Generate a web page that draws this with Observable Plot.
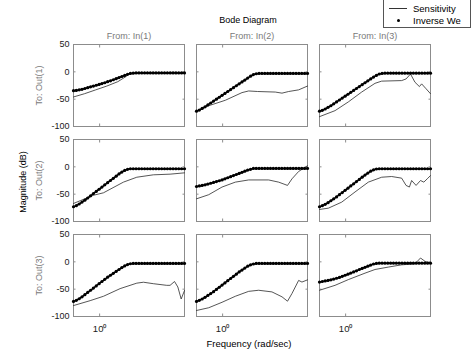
<!DOCTYPE html>
<html>
<head>
<meta charset="utf-8">
<script src="https://cdn.jsdelivr.net/npm/d3@7"></script>
<script src="https://cdn.jsdelivr.net/npm/@observablehq/plot@0.6"></script>
<style>
  html, body { margin: 0; padding: 0; background: #fff; }
  #wrap { position: relative; width: 474px; height: 355px; overflow: hidden; font-family: Arial, "Liberation Sans", sans-serif; color: #000; }
  #wrap svg { position: absolute; left: 0; top: 0; }
  .lbl { position: absolute; white-space: nowrap; }
</style>
</head>
<body>
<div id="wrap"></div>
<script>
// ---- labels / ticks ----
const cols = [1, 2, 3];
const rows = [1, 2, 3];
const colLabels = ["From: In(1)", "From: In(2)", "From: In(3)"];
const rowLabels = ["To: Out(1)", "To: Out(2)", "To: Out(3)"];
const yTicks = [-100, -50, 0, 50];
const xTicks = [1];
const xTickLabels = ["10\u2070"];
const title = "Bode Diagram";
const xLabel = "Frequency  (rad/sec)";
const yLabel = "Magnitude (dB)";
const seriesNames = ["Sensitivity", "Inverse We"];

// ---- Inverse We: frequency grid (rad/sec) and magnitudes (dB) ----
const freqWe = [0.5,0.539,0.581,0.627,0.676,0.729,0.786,0.848,0.914,0.986,
  1.063,1.146,1.236,1.333,1.438,1.55,1.672,1.803,1.944,2.097,
  2.261,2.438,2.63,2.836,3.058,3.298,3.557,3.835,4.136,4.46,
  4.81,5.187,5.594,6.032,6.505,7.015,7.565,8.158,8.797,9.5];

const weR1C1 = [-34.5,-34,-33,-32,-30.5,-29,-27.5,-26,-24.5,-23,
  -21.5,-20,-18,-16.5,-14.5,-12.5,-10.5,-8.5,-6.5,-4.5,
  -3,-2.5,-2,-2,-2,-2,-2,-2,-2,-2,
  -2,-2,-2,-2,-2,-2,-2,-2,-2,-2];
const weR1C2 = [-72,-70,-67,-64,-60.5,-57,-53.5,-50,-46.5,-43,
  -39.5,-36,-32.5,-29,-25.5,-22,-18.5,-15,-11.5,-8,
  -5,-3.5,-3,-3,-3,-3,-3,-3,-3,-3,
  -3,-3,-3,-3,-3,-3,-3,-3,-3,-3];
const weR1C3 = [-72,-70.5,-68,-65,-62,-58.5,-55,-51.5,-48,-44.5,
  -41,-37.5,-34,-30.5,-27,-23.5,-20,-16.5,-13,-9.5,
  -6.5,-4,-3,-2.5,-2.5,-2.5,-2.5,-2.5,-2.5,-2.5,
  -2.5,-2.5,-2.5,-2.5,-2.5,-2.5,-2.5,-2.5,-2.5,-2.5];
const weR2C1 = [-73,-71,-68,-64.5,-61,-57,-53,-49,-45,-41,
  -37,-33,-29,-25,-21,-17,-13,-9.5,-6.5,-4.5,
  -3.5,-3.5,-3.5,-3.5,-3.5,-3.5,-3.5,-3.5,-3.5,-3.5,
  -3.5,-3.5,-3.5,-3.5,-3.5,-3.5,-3.5,-3.5,-3.5,-3.5];
const weR2C2 = [-36,-35,-34,-33,-31.5,-30,-28.5,-27,-25.5,-24,
  -22,-20,-18,-16,-14,-12,-10,-8,-6,-4.5,
  -3,-3,-3,-3,-3,-3,-3,-3,-3,-3,
  -3,-3,-3,-3,-3,-3,-3,-3,-3,-3];
const weR2C3 = [-73,-71,-68.5,-65.5,-62,-58.5,-55,-51,-47,-43,
  -39,-35,-31,-27,-23,-19,-15,-11.5,-8,-5.5,
  -4,-3.5,-3.5,-3.5,-3.5,-3.5,-3.5,-3.5,-3.5,-3.5,
  -3.5,-3.5,-3.5,-3.5,-3.5,-3.5,-3.5,-3.5,-3.5,-3.5];
const weR3C1 = [-72.5,-70.5,-67.5,-64,-60,-56,-52,-48,-44,-40,
  -36,-32,-28,-24.5,-21,-17.5,-14,-10.5,-7.5,-5,
  -3.5,-3,-3,-3,-3,-3,-3,-3,-3,-3,
  -3,-3,-3,-3,-3,-3,-3,-3,-3,-3];
const weR3C2 = [-72.5,-70.5,-68,-65,-61.5,-58,-54.5,-50.5,-46.5,-42.5,
  -38.5,-34.5,-30.5,-26.5,-22.5,-18.5,-15,-11.5,-8,-5.5,
  -4,-3,-3,-3,-3,-3,-3,-3,-3,-3,
  -3,-3,-3,-3,-3,-3,-3,-3,-3,-3];
const weR3C3 = [-37,-36,-35,-34,-33,-31.5,-30,-28.5,-26.5,-24.5,
  -22.5,-20.5,-18.5,-16.5,-14,-12,-10,-8,-6,-4,
  -3,-2.5,-2.5,-2.5,-2.5,-2.5,-2.5,-2.5,-2.5,-2.5,
  -2.5,-2.5,-2.5,-2.5,-2.5,-2.5,-2.5,-2.5,-2.5,-2.5];

// ---- Sensitivity: [frequency (rad/sec), magnitude (dB)] ----
const sensR1C1 = [[0.5,-46],[0.671,-40],[0.901,-33],[1.21,-26],[1.62,-18],[1.995,-9],[2.18,-4],[2.53,-2],[3.39,-1.5],[5.28,-1.5],[7.08,-1],[9.5,-1.5]];
const sensR1C2 = [[0.5,-72],[0.691,-62],[1.075,-52],[1.672,-38],[1.995,-35],[2.53,-36],[4.04,-37],[4.83,-39],[5.76,-36],[7.51,-33],[9.5,-26]];
const sensR1C3 = [[0.5,-82],[0.755,-71],[1.075,-55],[1.531,-37],[2.18,-21],[2.6,-17],[4.42,-16],[4.97,-13],[5.59,-4],[6.29,-19],[7.08,-27],[7.51,-22],[8.45,-31],[9.5,-40]];
const sensR2C1 = [[0.5,-67],[0.597,-62],[0.712,-57],[0.85,-52],[1.107,-47.5],[1.88,-28],[2.68,-19],[4.16,-14.6],[6.48,-13.4],[9.5,-11]];
const sensR2C2 = [[0.5,-58.5],[0.691,-51],[0.984,-37],[1.4,-28],[1.995,-24],[3.39,-24],[4.42,-28],[5.59,-34],[6.29,-22],[7.51,-8.5],[9.5,2]];
const sensR2C3 = [[0.5,-78],[0.633,-75.6],[0.901,-64.6],[1.283,-46],[1.826,-28],[2.6,-19],[3.39,-17.7],[4.42,-20.7],[4.97,-34],[5.43,-37],[5.76,-25],[6.48,-34],[7.29,-25],[7.96,-28],[8.7,-22],[9.5,-16]];
const sensR3C1 = [[0.5,-80],[0.778,-71],[1.107,-63],[1.722,-49],[2.68,-39],[3.2,-37.3],[4.16,-40],[5.93,-43],[6.48,-43],[7.29,-36],[7.96,-46],[8.7,-68],[9.5,-52.5]];
const sensR3C2 = [[0.5,-89],[0.691,-84],[0.984,-74],[1.4,-63],[1.995,-54],[2.6,-52],[3.7,-55],[4.83,-64],[5.59,-72],[6.29,-58],[7.51,-34],[8.2,-37],[9.5,-33]];
const sensR3C3 = [[0.5,-52],[0.755,-43],[1.075,-32.5],[1.672,-20.7],[2.18,-14],[3.1,-9.6],[4.42,-5.5],[6.29,-3.6],[7.29,7],[8.2,1],[9.5,-2.5]];

const panels = [
  {row: 1, col: 1, sens: sensR1C1, we: weR1C1},
  {row: 1, col: 2, sens: sensR1C2, we: weR1C2},
  {row: 1, col: 3, sens: sensR1C3, we: weR1C3},
  {row: 2, col: 1, sens: sensR2C1, we: weR2C1},
  {row: 2, col: 2, sens: sensR2C2, we: weR2C2},
  {row: 2, col: 3, sens: sensR2C3, we: weR2C3},
  {row: 3, col: 1, sens: sensR3C1, we: weR3C1},
  {row: 3, col: 2, sens: sensR3C2, we: weR3C2},
  {row: 3, col: 3, sens: sensR3C3, we: weR3C3}
];

const sensData = [];
const weData = [];
for (const p of panels) {
  for (const [f, db] of p.sens) sensData.push({row: p.row, col: p.col, f, db});
  freqWe.forEach((f, i) => weData.push({row: p.row, col: p.col, f, db: p.we[i]}));
}

const xTickFormat = d => { const i = xTicks.indexOf(d); return i >= 0 ? xTickLabels[i] : ""; };

const frameGrey = "#8c8c8c";
const chart = Plot.plot({
  width: 474,
  height: 355,
  marginTop: 44,
  marginBottom: 39,
  marginLeft: 72,
  marginRight: 44,
  style: {fontFamily: "Arial, 'Liberation Sans', sans-serif", fontSize: "9px", background: "transparent", color: "#000"},
  x: {type: "log", domain: [0.5, 9.5], axis: null},
  y: {domain: [-100, 50], axis: null},
  fx: {domain: cols, paddingInner: 0.101, paddingOuter: 0, axis: null},
  fy: {domain: rows, paddingInner: 0.137, paddingOuter: 0, axis: null},
  marks: [
    Plot.frame({stroke: frameGrey}),
    // inward tick marks on all four sides
    Plot.axisY({anchor: "left", ticks: yTicks, tickSize: 2.5, dx: 2.5, tickFormat: () => "", label: null, facetAnchor: null, color: frameGrey}),
    Plot.axisY({anchor: "right", ticks: yTicks, tickSize: 2.5, dx: -2.5, tickFormat: () => "", label: null, facetAnchor: null, color: frameGrey}),
    Plot.axisX({anchor: "bottom", ticks: xTicks, tickSize: 2.5, dy: -2.5, tickFormat: () => "", label: null, facetAnchor: null, color: frameGrey}),
    Plot.axisX({anchor: "top", ticks: xTicks, tickSize: 2.5, dy: 2.5, tickFormat: () => "", label: null, facetAnchor: null, color: frameGrey}),
    // tick labels
    Plot.axisY({anchor: "left", ticks: yTicks, tickSize: 0, tickPadding: 4, tickFormat: d => String(d), label: null, color: "#1a1a1a"}),
    Plot.axisX({anchor: "bottom", ticks: xTicks, tickSize: 0, tickPadding: 9, tickFormat: xTickFormat, label: null, color: "#1a1a1a", fontSize: 9.5}),
    Plot.axisFx({anchor: "top", tickSize: 0, tickPadding: 6, tickFormat: d => colLabels[d - 1], label: null, color: "#7a7a7a"}),
    Plot.axisFy({anchor: "left", tickSize: 0, tickRotate: -90, tickPadding: 32, tickFormat: d => rowLabels[d - 1], label: null, color: "#7a7a7a"}),
    // data
    Plot.line(sensData, {x: "f", y: "db", fx: "col", fy: "row", stroke: "#2b2b2b", strokeWidth: 0.8}),
    Plot.line(weData, {x: "f", y: "db", fx: "col", fy: "row", stroke: "#000", strokeWidth: 1.6}),
    Plot.dot(weData, {x: "f", y: "db", fx: "col", fy: "row", r: 1.6, fill: "#000", stroke: "none"})
  ]
});

const wrap = document.getElementById("wrap");
wrap.appendChild(chart);

function addLabel(text, css) {
  const d = document.createElement("div");
  d.className = "lbl";
  d.textContent = text;
  Object.assign(d.style, css);
  wrap.appendChild(d);
  return d;
}
addLabel(title, {left: "248px", top: "16px", fontSize: "9px", lineHeight: "9px", transform: "translateX(-50%)"});
addLabel(xLabel, {left: "249px", top: "339px", fontSize: "9.5px", lineHeight: "10px", transform: "translateX(-50%)"});
addLabel(yLabel, {left: "22.5px", top: "182px", fontSize: "9px", lineHeight: "9px", transform: "translate(-50%,-50%) rotate(-90deg)"});

// legend
const leg = document.createElement("div");
Object.assign(leg.style, {position: "absolute", left: "383px", top: "-1px", width: "86px", height: "27px", border: "1px solid #555", background: "#fff"});
wrap.appendChild(leg);
const sw1 = document.createElement("div");
Object.assign(sw1.style, {position: "absolute", left: "5px", top: "8px", width: "18px", height: "0", borderTop: "1px solid #333"});
leg.appendChild(sw1);
const sw2 = document.createElement("div");
Object.assign(sw2.style, {position: "absolute", left: "13px", top: "19px", width: "3px", height: "3px", borderRadius: "50%", background: "#000"});
leg.appendChild(sw2);
seriesNames.forEach((name, i) => {
  const t = document.createElement("div");
  t.className = "lbl";
  t.textContent = name;
  Object.assign(t.style, {left: "29px", top: (4 + i * 12) + "px", fontSize: "9.5px", lineHeight: "10px"});
  leg.appendChild(t);
});
</script>
</body>
</html>
